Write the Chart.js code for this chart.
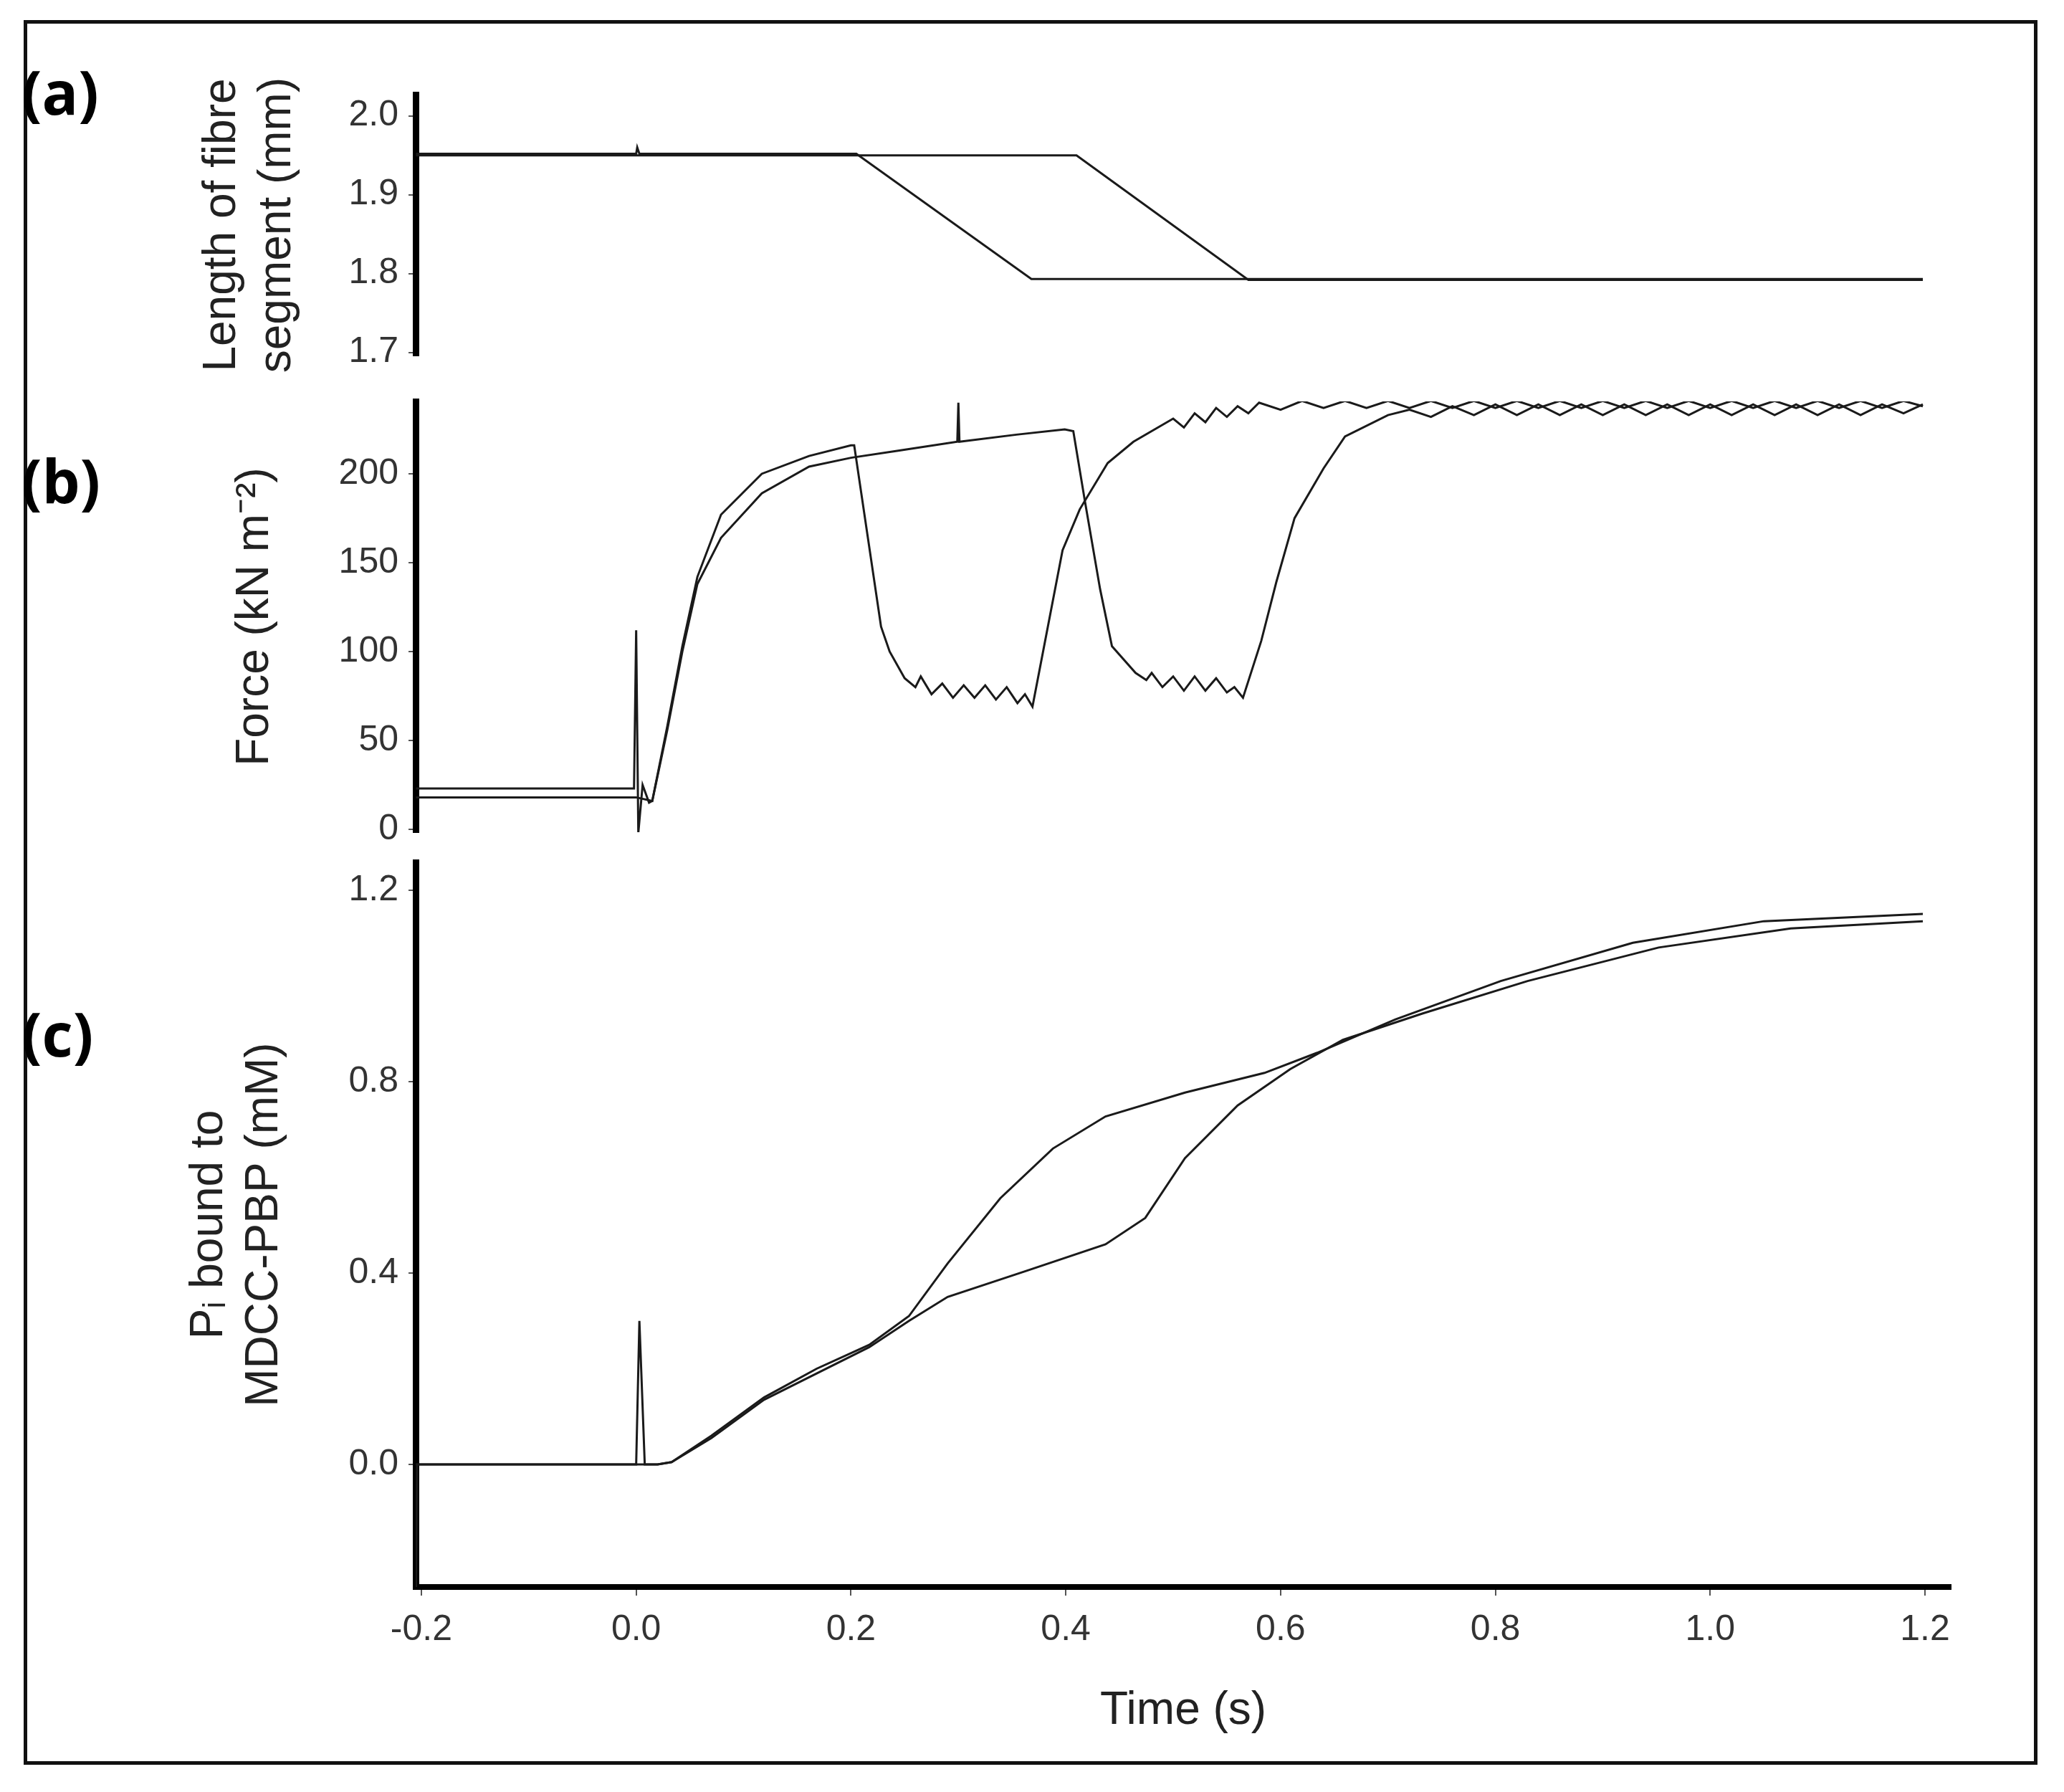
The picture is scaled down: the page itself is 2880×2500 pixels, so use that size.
<!DOCTYPE html>
<html>
<head>
<meta charset="utf-8">
<script src="https://cdn.jsdelivr.net/npm/chart.js@4"></script>
<style>
  body { margin: 0; background: #fff; }
  #page { position: relative; width: 2880px; height: 2500px; background: #fff; }
  canvas { position: absolute; left: 0; top: 0; }
  .frame { position: absolute; left: 33px; top: 28px; width: 2800px; height: 2424px; border: 5px solid #111; }
  .lbl { position: absolute; font-family: "Open Sans", sans-serif; font-weight: bold; font-size: 84px; line-height: 100px; color: #000; }
</style>
</head>
<body>
<div id="page">
  <div class="frame"></div>
  <div class="lbl" style="left:30px; top:78px;">(a)</div>
  <div class="lbl" style="left:30px; top:620px;">(b)</div>
  <div class="lbl" style="left:30px; top:1392px;">(c)</div>
  <canvas id="cA" width="2880" height="2500"></canvas>
  <canvas id="cB" width="2880" height="2500"></canvas>
  <canvas id="cC" width="2880" height="2500"></canvas>
</div>
<script>
// tidsakse (s)
const timeTicks = [-0.2, 0.0, 0.2, 0.4, 0.6, 0.8, 1.0, 1.2];

// (a) lengde av fibersegment (mm)
const lengthTicks = [1.7, 1.8, 1.9, 2.0];
const lengthEarly = [[-0.205, 1.952], [0.0, 1.952], [0.001, 1.96], [0.003, 1.952], [0.205, 1.952], [0.368, 1.793], [1.198, 1.793]];
const lengthLate = [[-0.205, 1.95], [0.41, 1.95], [0.57, 1.792], [1.198, 1.792]];

// (b) kraft (kN m-2)
const forceTicks = [0, 50, 100, 150, 200];
const forceEarly = [
  [-0.205, 23], [-0.002, 23], [0.0, 112], [0.002, -2], [0.006, 25], [0.012, 15], [0.015, 16],
  [0.029, 58], [0.043, 103], [0.057, 142], [0.079, 177], [0.117, 200], [0.161, 210], [0.2, 216],
  [0.203, 216], [0.228, 114], [0.236, 100], [0.25, 85], [0.26, 80], [0.265, 86], [0.275, 76],
  [0.285, 82], [0.295, 74], [0.305, 81], [0.315, 74], [0.325, 81], [0.335, 73], [0.345, 80],
  [0.355, 71], [0.362, 76], [0.369, 69], [0.397, 157], [0.413, 180], [0.439, 206], [0.463, 218],
  [0.5, 231], [0.51, 226], [0.52, 234], [0.53, 229], [0.54, 237], [0.55, 232], [0.56, 238],
  [0.57, 234], [0.58, 240], [0.6, 236], [0.62, 241], [0.64, 237], [0.66, 241], [0.68, 237],
  [0.70, 241], [0.72, 237], [0.74, 241], [0.76, 237], [0.78, 241], [0.80, 237], [0.82, 241],
  [0.84, 237], [0.86, 241], [0.88, 237], [0.90, 241], [0.92, 237], [0.94, 241], [0.96, 237],
  [0.98, 241], [1.00, 237], [1.02, 241], [1.04, 237], [1.06, 241], [1.08, 237], [1.10, 241],
  [1.12, 237], [1.14, 241], [1.16, 237], [1.18, 241], [1.198, 238]
];
const forceLate = [
  [-0.205, 18], [0.0, 18], [0.015, 16], [0.029, 56], [0.043, 100], [0.057, 138], [0.079, 164],
  [0.117, 189], [0.161, 204], [0.2, 209], [0.244, 213], [0.299, 218], [0.3, 240], [0.301, 218],
  [0.354, 222], [0.399, 225], [0.407, 224], [0.418, 184], [0.432, 135], [0.443, 103], [0.465, 88],
  [0.475, 84], [0.48, 88], [0.49, 80], [0.5, 86], [0.51, 78], [0.52, 86], [0.53, 78], [0.54, 85],
  [0.55, 77], [0.557, 80], [0.565, 74], [0.582, 106], [0.596, 139], [0.613, 175], [0.64, 203],
  [0.66, 221], [0.70, 233], [0.72, 236], [0.74, 232], [0.76, 238], [0.78, 233], [0.80, 239],
  [0.82, 233], [0.84, 239], [0.86, 233], [0.88, 239], [0.90, 233], [0.92, 239], [0.94, 233],
  [0.96, 239], [0.98, 233], [1.00, 239], [1.02, 233], [1.04, 239], [1.06, 233], [1.08, 239],
  [1.10, 233], [1.12, 239], [1.14, 233], [1.16, 239], [1.18, 234], [1.198, 239]
];

// (c) Pi bundet til MDCC-PBP (mM)
const piTicks = [0.0, 0.4, 0.8, 1.2];
const piEarly = [
  [-0.205, -0.256], [-0.204, 0.0], [0.0, 0.0], [0.003, 0.3], [0.008, 0.0], [0.02, 0.0],
  [0.033, 0.005], [0.07, 0.06], [0.119, 0.14], [0.168, 0.2], [0.217, 0.25], [0.254, 0.31],
  [0.29, 0.42], [0.339, 0.556], [0.388, 0.66], [0.437, 0.727], [0.511, 0.777], [0.585, 0.818],
  [0.634, 0.86], [0.707, 0.93], [0.805, 1.01], [0.928, 1.09], [1.05, 1.135], [1.198, 1.15]
];
const piLate = [
  [-0.205, 0.0], [0.0, 0.0], [0.02, 0.0], [0.033, 0.005], [0.07, 0.055], [0.119, 0.135],
  [0.168, 0.19], [0.217, 0.245], [0.254, 0.3], [0.29, 0.35], [0.364, 0.405], [0.437, 0.46],
  [0.474, 0.515], [0.511, 0.64], [0.56, 0.75], [0.609, 0.826], [0.658, 0.887], [0.732, 0.942],
  [0.83, 1.01], [0.952, 1.08], [1.075, 1.12], [1.198, 1.135]
];

const tickFont = { family: "Liberation Sans", size: 50 };
const titleFont = { family: "Liberation Sans", size: 64 };

function ds(points) {
  return {
    data: points.map((p) => ({ x: p[0], y: p[1] })),
    borderColor: "#1a1a1a",
    borderWidth: 3,
    pointRadius: 0,
    tension: 0,
  };
}

function lagPanel(id, opts) {
  const xAxis = {
    type: "linear",
    min: -0.2053,
    max: 1.224,
    display: opts.showX,
    grid: { drawOnChartArea: false, tickLength: 12, color: "#555", lineWidth: 2 },
    border: { display: true, color: "#000", width: 8 },
    afterBuildTicks: (s) => { s.ticks = timeTicks.map((v) => ({ value: v })); },
    afterFit: (s) => { s.height = opts.xHeight; },
    ticks: { font: tickFont, color: "#333", padding: 18, callback: (v) => v.toFixed(1) },
    title: { display: opts.showX, text: "Time (s)", font: titleFont, color: "#222", padding: { top: 20 } },
  };
  new Chart(document.getElementById(id), {
    type: "line",
    data: { datasets: opts.series.map(ds) },
    options: {
      responsive: false,
      animation: false,
      layout: { padding: { left: opts.padLeft, right: 158, top: opts.top, bottom: opts.bottom } },
      plugins: { legend: { display: false }, tooltip: { enabled: false } },
      scales: {
        x: xAxis,
        y: {
          min: opts.min,
          max: opts.max,
          grid: { drawOnChartArea: false, tickLength: 10, color: "#555", lineWidth: 2 },
          border: { display: true, color: "#000", width: 9 },
          afterBuildTicks: (s) => { s.ticks = opts.ticks.map((v) => ({ value: v })); },
          afterFit: (s) => { s.width = 580 - opts.padLeft; },
          ticks: { font: tickFont, color: "#333", padding: 14, callback: opts.fmt },
          title: { display: true, text: opts.title, font: titleFont, color: "#222", padding: 4 },
        },
      },
    },
  });
}

lagPanel("cA", {
  series: [lengthEarly, lengthLate], min: 1.696, max: 2.027, ticks: lengthTicks,
  fmt: (v) => v.toFixed(1), title: ["Length of fibre", "segment (mm)"],
  padLeft: 268, top: 132, bottom: 2500 - 496, showX: false, xHeight: 0,
});
lagPanel("cB", {
  series: [forceEarly, forceLate], min: -1.6, max: 240.7, ticks: forceTicks,
  fmt: (v) => String(v), title: "Force (kN m\u207B\u00B2)",
  padLeft: 314, top: 560, bottom: 2500 - 1161, showX: false, xHeight: 0,
});
lagPanel("cC", {
  series: [piEarly, piLate], min: -0.256, max: 1.258, ticks: piTicks,
  fmt: (v) => v.toFixed(1), title: ["P\u1D62 bound to", "MDCC-PBP (mM)"],
  padLeft: 250, top: 1203, bottom: 70, showX: true, xHeight: 2500 - 70 - 2214,
});
</script>
</body>
</html>
